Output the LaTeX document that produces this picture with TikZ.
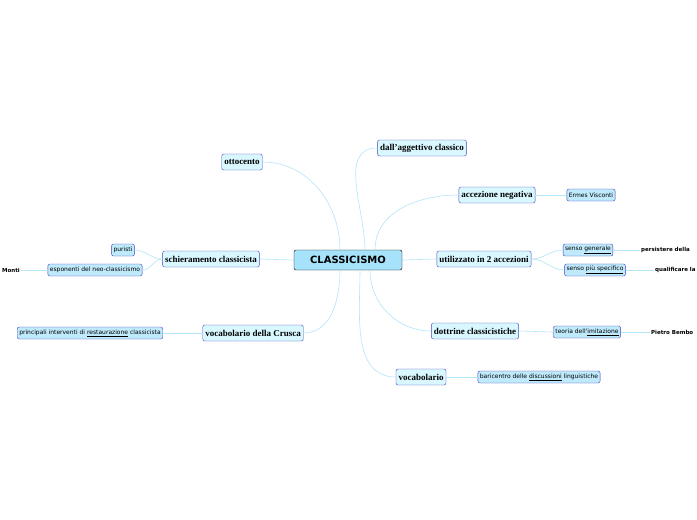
\documentclass[tikz,border=0pt]{standalone}
\usepackage{fontspec}
\setmainfont{Liberation Serif}
\newfontfamily\vsans{DejaVu Sans}
\begin{document}
\begin{tikzpicture}[x=1pt,y=-1pt,
  main/.style={draw=blue!45!gray,fill=blue!20!cyan!15,rounded corners=2pt,font=\bfseries\fontsize{9}{10}\selectfont,inner sep=2.5pt,minimum height=16pt},
  sub/.style={draw=blue!50!gray,fill=cyan!25,rounded corners=2pt,font=\vsans\fontsize{6}{7}\selectfont,inner sep=2pt,minimum height=12pt},
  leaf/.style={font=\vsans\bfseries\fontsize{5.5}{6}\selectfont,inner sep=1pt},
  ln/.style={draw=cyan!30,line width=0.6pt}]
\clip (0,0) rectangle (697,520);
\fill[white] (0,0) rectangle (697,520);
\node[draw=black,fill=cyan!35,rounded corners=2pt,font=\vsans\bfseries\fontsize{10}{12}\selectfont,minimum height=20pt,minimum width=108pt] (c) at (348,260) {CLASSICISMO};
\node[main] (ott) at (242,162) {ottocento};
\node[main] (dal) at (422,148) {dall'aggettivo classico};
\node[main] (acc) at (497,195) {accezione negativa};
\node[sub] (erm) at (591,195) {Ermes Visconti};
\node[main] (uti) at (484,259) {utilizzato in 2 accezioni};
\node[sub] (sg) at (588,250) {senso \underline{generale}};
\node[sub] (ss) at (595,270) {senso \underline{più specifico}};
\node[leaf,anchor=west] (per) at (640,250) {persistere della};
\node[leaf,anchor=west] (qua) at (654,270) {qualificare la};
\node[main] (sch) at (211,259) {schieramento classicista};
\node[sub] (pur) at (123,250) {puristi};
\node[sub] (esp) at (95,270) {esponenti del neo-classicismo};
\node[leaf,anchor=east] (mon) at (21,270) {Monti};
\node[main] (voc) at (253,333) {vocabolario della Crusca};
\node[sub] (pri) at (90,333) {principali interventi di \underline{restaurazione} classicista};
\node[main] (dot) at (475,331) {dottrine classicistiche};
\node[sub] (teo) at (587,332) {teoria dell'\underline{imitazione}};
\node[leaf,anchor=west] (bem) at (650,332) {Pietro Bembo};
\node[main] (vo2) at (421,377) {vocabolario};
\node[sub] (bar) at (539,377) {baricentro delle \underline{discussioni} linguistiche};
\coordinate (cl) at (340,250);
\coordinate (cr) at (365,250);
\coordinate (cl2) at (340,270);
\coordinate (cr2) at (370,270);
\draw[ln] (ott.east) to[out=0,in=90] (cl);
\draw[ln] (dal.west) to[out=180,in=90] (cr);
\draw[ln] (acc.west) to[out=180,in=90] (375,250);
\draw[ln] (uti.west) -- (c.east);
\draw[ln] (sch.east) -- (c.west);
\draw[ln] (voc.east) to[out=0,in=-90] (cl2);
\draw[ln] (dot.west) to[out=180,in=-90] (cr2);
\draw[ln] (vo2.west) to[out=180,in=-90] (360,270);
\draw[ln] (acc.east) -- (erm.west);
\draw[ln] (uti.east) to[out=0,in=180] (sg.west);
\draw[ln] (uti.east) to[out=0,in=180] (ss.west);
\draw[ln] (sg.east) -- (per.west);
\draw[ln] (ss.east) -- (qua.west);
\draw[ln] (sch.west) to[out=180,in=0] (pur.east);
\draw[ln] (sch.west) to[out=180,in=0] (esp.east);
\draw[ln] (esp.west) -- (mon.east);
\draw[ln] (voc.west) -- (pri.east);
\draw[ln] (dot.east) -- (teo.west);
\draw[ln] (teo.east) -- (bem.west);
\draw[ln] (vo2.east) -- (bar.west);
\end{tikzpicture}
\end{document}
